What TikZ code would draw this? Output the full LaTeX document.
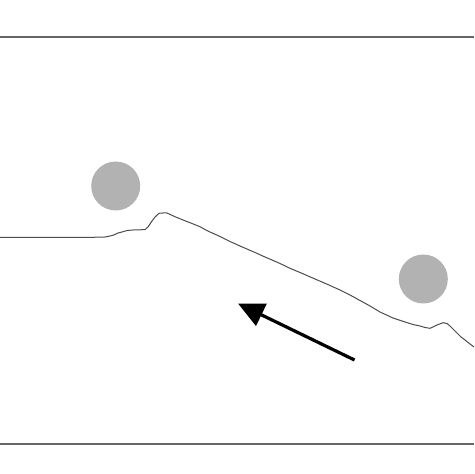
\documentclass[tikz,border=0pt]{standalone}
\usetikzlibrary{arrows.meta}

\tikzset{ball/.style={circle, fill=black!30, inner sep=0pt, minimum size=24.5pt},
  rail/.style={line width=0.7pt, black!60},
  slope/.style={line width=0.5pt, black!70}}

\begin{document}
\begin{tikzpicture}[x=0.5pt, y=-0.5pt]
\useasboundingbox (0,0) rectangle (474,474);
% walls
\draw[rail] (0,37) -- (474,37);
\draw[rail] (0,444) -- (474,444);
% surface
\draw[slope] (0,237.3) -- (93,237.3) -- (105,237) -- (110,236) -- (113,235.3)
  -- (118,233) -- (122,232) -- (127,230.5) -- (133,230) -- (140,229.8) -- (145,229.6)
  -- (148,227) -- (152,221) -- (155,217) -- (159,213.3) -- (163,213) -- (167,213)
  -- (175,216.7) -- (185,220.8) -- (192,223.5) -- (200,226.7) -- (205,229.5) -- (210,232)
  -- (220,236.5) -- (230,241.5) -- (240,246) -- (255,252.5) -- (265,257) -- (280,263.5)
  -- (290,268.3) -- (300,272.5) -- (315,279) -- (330,285.5) -- (340,290) -- (350,295)
  -- (360,300.5) -- (370,306) -- (380,312) -- (393,318) -- (405,322) -- (413,324.5)
  -- (420,326) -- (425,327.5) -- (430,328.3) -- (434,326.5) -- (437,325) -- (443,322.7)
  -- (447,323.5) -- (450,326) -- (454,330) -- (457,333) -- (461,337) -- (465,340)
  -- (470,344) -- (474,347);
% balls
\path (115.7,186) node[ball] (b1) {};
\path (423.3,279) node[ball] (b2) {};
% direction
\coordinate (tail) at (354.5,360);
\coordinate (tip) at (238,303.5);
\draw[line width=1.6pt, -{Triangle[length=13pt, width=12pt]}] (tail) -- (tip);
\end{tikzpicture}
\end{document}
